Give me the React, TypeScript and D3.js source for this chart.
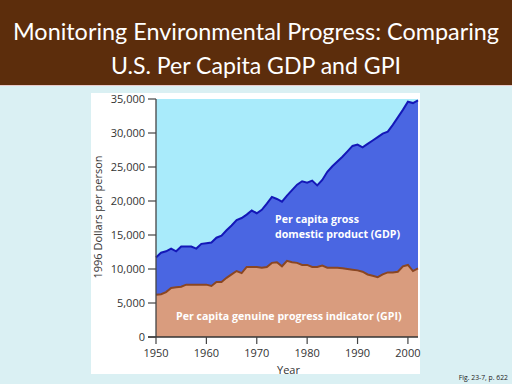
import React from "react";
import * as d3 from "d3";

const years = [1950,1951,1952,1953,1954,1955,1956,1957,1958,1959,1960,1961,1962,1963,1964,1965,1966,1967,1968,1969,1970,1971,1972,1973,1974,1975,1976,1977,1978,1979,1980,1981,1982,1983,1984,1985,1986,1987,1988,1989,1990,1991,1992,1993,1994,1995,1996,1997,1998,1999,2000,2001,2002];
const gdp = [11700,12400,12600,13000,12600,13300,13300,13300,13000,13700,13800,13900,14600,14900,15700,16400,17200,17500,18000,18600,18200,18700,19600,20600,20300,19900,20800,21600,22400,22900,22700,23000,22300,23100,24300,25100,25800,26500,27300,28100,28300,27900,28400,28900,29400,29900,30200,31200,32300,33400,34600,34400,34800];
const gpi = [6200,6300,6600,7200,7300,7400,7700,7700,7700,7700,7700,7500,8100,8100,8700,9200,9700,9400,10300,10300,10300,10200,10300,10900,11000,10400,11200,11000,10900,10600,10600,10300,10300,10500,10200,10200,10200,10100,10000,9900,9800,9600,9200,9000,8800,9200,9500,9500,9600,10400,10600,9700,10100];
const yTicks = [0,5000,10000,15000,20000,25000,30000,35000];
const xTicks = [1950,1960,1970,1980,1990,2000];
const titleLines = ["Monitoring Environmental Progress: Comparing", "U.S. Per Capita GDP and GPI"];

export default function App() {
  const W = 512, H = 384;
  const x = d3.scaleLinear().domain([1950, 2002]).range([156, 418]);
  const y = d3.scaleLinear().domain([0, 35000]).range([337, 99]);
  const rows = years.map((yr, i) => ({ yr, gdp: gdp[i], gpi: gpi[i] }));
  const areaG = d3.area<any>().x(d => x(d.yr)).y0(y(0)).y1(d => y(d.gdp));
  const areaP = d3.area<any>().x(d => x(d.yr)).y0(y(0)).y1(d => y(d.gpi));
  const lineG = d3.line<any>().x(d => x(d.yr)).y(d => y(d.gdp));
  const lineP = d3.line<any>().x(d => x(d.yr)).y(d => y(d.gpi));
  const fmt = d3.format(",");
  const tickFont = "'Open Sans', 'DejaVu Sans', sans-serif";
  const labelFont = "'Open Sans', 'DejaVu Sans', sans-serif";
  const titleLens = [486, 290];
  return (
    <svg width={W} height={H} style={{ position: "absolute", left: 0, top: 0 }}>
      <rect x={0} y={0} width={W} height={H} fill="#daf0f3" />
      <rect x={0} y={0} width={W} height={85} fill="#5c2d0c" />
      <line x1={0} x2={W} y1={85.5} y2={85.5} stroke="#e8c9c9" strokeWidth={1} />
      {titleLines.map((t, i) => (
        <text key={i} x={256} y={40 + i * 33.5} textAnchor="middle" fill="#ffffff"
          fontFamily="Lato, 'Open Sans', sans-serif" fontSize={24}
          textLength={titleLens[i]} lengthAdjust="spacingAndGlyphs">{t}</text>
      ))}
      <rect x={91} y={93} width={329} height={281} fill="#ffffff" />
      <rect x={x(1950)} y={y(35000)} width={x(2002) - x(1950)} height={y(0) - y(35000)} fill="#a9ebfb" />
      <path d={areaG(rows) || ""} fill="#4a66e2" />
      <path d={areaP(rows) || ""} fill="#d99c7e" />
      <path d={lineG(rows) || ""} fill="none" stroke="#1418b8" strokeWidth={2} />
      <path d={lineP(rows) || ""} fill="none" stroke="#8a4622" strokeWidth={2} />
      <line x1={x(1950)} x2={x(1950)} y1={y(35000)} y2={y(0)} stroke="#444" strokeWidth={1.3} />
      <line x1={148} x2={x(2002)} y1={y(0)} y2={y(0)} stroke="#333" strokeWidth={1.3} />
      {yTicks.map(v => (
        <g key={v}>
          <line x1={148} x2={x(1950)} y1={y(v)} y2={y(v)} stroke="#444" strokeWidth={1.2} />
          <text x={145} y={y(v)} dy="0.35em" textAnchor="end" fontFamily={tickFont} fontSize={11} fill="#333">{fmt(v)}</text>
        </g>
      ))}
      {xTicks.map(v => (
        <g key={v}>
          <line x1={x(v)} x2={x(v)} y1={y(0)} y2={y(0) + 7} stroke="#444" strokeWidth={1.2} />
          <text x={x(v)} y={357} textAnchor="middle" fontFamily={tickFont} fontSize={11} fill="#333">{v}</text>
        </g>
      ))}
      <text x={288.5} y={374} textAnchor="middle" fontFamily={tickFont} fontSize={11} fill="#333">Year</text>
      <text transform={`translate(102,217) rotate(-90)`} textAnchor="middle" fontFamily={tickFont} fontSize={11} fill="#333">1996 Dollars per person</text>
      <text x={275} y={223} fontFamily={labelFont} fontWeight="bold" fontSize={10.6} fill="#ffffff">Per capita gross</text>
      <text x={275} y={238} fontFamily={labelFont} fontWeight="bold" fontSize={10.6} fill="#ffffff">domestic product (GDP)</text>
      <text x={176} y={320} fontFamily={labelFont} fontWeight="bold" fontSize={10.6} fill="#ffffff">Per capita genuine progress indicator (GPI)</text>
      <text x={508} y={380} textAnchor="end" fontFamily={labelFont} fontSize={6.8} fill="#222">Fig. 23-7, p. 622</text>
    </svg>
  );
}
